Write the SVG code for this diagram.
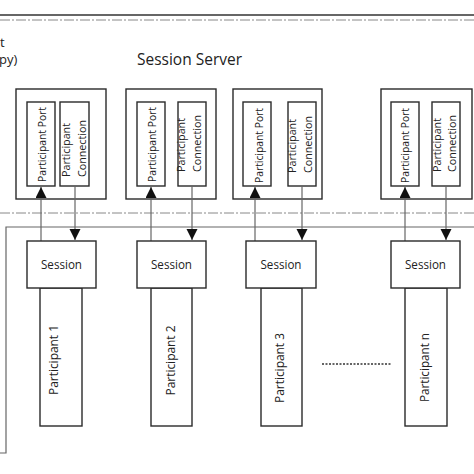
<svg xmlns="http://www.w3.org/2000/svg" width="474" height="474" viewBox="0 0 474 474">
<defs>
<style>
.box{fill:#fff;stroke:#2a2a2a;stroke-width:1.4}
.ln{fill:none;stroke:#666;stroke-width:1.2}
.dash{fill:none;stroke:#888;stroke-width:1;stroke-dasharray:10 2 2 2}
.t{font-family:"Open Sans","Noto Sans",sans-serif;fill:#222}
.s{font-size:11.5px}
.m{font-size:12.5px}
</style>
<marker id="ah" markerUnits="userSpaceOnUse" markerWidth="12" markerHeight="12" viewBox="0 0 12 12" refX="11" refY="5.5" orient="auto">
<path d="M0,0 L11,5.5 L0,11 Z" fill="#111"/>
</marker>
</defs>
<rect width="474" height="474" fill="#fff"/>
<g id="frame">
<line x1="0" y1="15" x2="474" y2="15" stroke="#333" stroke-width="1.5"/>
<line class="dash" x1="0" y1="20" x2="474" y2="20"/>
<line class="dash" x1="0" y1="213" x2="474" y2="213"/>
<text class="t" x="0" y="47" font-size="13">t</text>
<text class="t" x="-1" y="64" font-size="13">py)</text>
<text class="t" x="189.5" y="65" font-size="16.5" text-anchor="middle" textLength="105" lengthAdjust="spacingAndGlyphs">Session Server</text>
</g>
<g id="server1">
<rect class="box" x="16" y="89" width="90" height="110"/>
<rect class="box" x="27" y="102" width="28" height="84"/>
<rect class="box" x="60" y="102" width="29" height="84"/>
<text class="t s" transform="translate(45.5,144.5) rotate(-90)" text-anchor="middle" textLength="75" lengthAdjust="spacingAndGlyphs">Participant Port</text>
<text class="t s" transform="translate(70,177) rotate(-90)" textLength="54" lengthAdjust="spacingAndGlyphs">Participant</text>
<text class="t s" transform="translate(86,177) rotate(-90)" textLength="57" lengthAdjust="spacingAndGlyphs">Connection</text>
</g>
<g id="server2">
<rect class="box" x="126" y="89" width="90" height="110"/>
<rect class="box" x="137" y="102" width="28" height="84"/>
<rect class="box" x="178" y="102" width="28" height="84"/>
<text class="t s" transform="translate(156,144.5) rotate(-90)" text-anchor="middle" textLength="75" lengthAdjust="spacingAndGlyphs">Participant Port</text>
<text class="t s" transform="translate(185,172) rotate(-90)" textLength="54" lengthAdjust="spacingAndGlyphs">Participant</text>
<text class="t s" transform="translate(201,172) rotate(-90)" textLength="57" lengthAdjust="spacingAndGlyphs">Connection</text>
</g>
<g id="server3">
<rect class="box" x="233" y="89" width="89" height="110"/>
<rect class="box" x="243" y="102" width="28" height="84"/>
<rect class="box" x="288" y="102" width="28" height="84"/>
<text class="t s" transform="translate(263,145.5) rotate(-90)" text-anchor="middle" textLength="75" lengthAdjust="spacingAndGlyphs">Participant Port</text>
<text class="t s" transform="translate(296,173) rotate(-90)" textLength="54" lengthAdjust="spacingAndGlyphs">Participant</text>
<text class="t s" transform="translate(312,173) rotate(-90)" textLength="57" lengthAdjust="spacingAndGlyphs">Connection</text>
</g>
<g id="server4">
<rect class="box" x="381" y="89" width="91" height="110"/>
<rect class="box" x="391" y="102" width="28" height="84"/>
<rect class="box" x="432" y="102" width="28" height="84"/>
<text class="t s" transform="translate(409,145.5) rotate(-90)" text-anchor="middle" textLength="75" lengthAdjust="spacingAndGlyphs">Participant Port</text>
<text class="t s" transform="translate(441,172) rotate(-90)" textLength="54" lengthAdjust="spacingAndGlyphs">Participant</text>
<text class="t s" transform="translate(456,172) rotate(-90)" textLength="57" lengthAdjust="spacingAndGlyphs">Connection</text>
</g>
<g id="connectors">
<polyline class="ln" points="474,227 6,227 6,453 0,453"/>
<line class="ln" x1="41" y1="241" x2="41" y2="187" marker-end="url(#ah)"/>
<line class="ln" x1="75" y1="186" x2="75" y2="240" marker-end="url(#ah)"/>
<line class="ln" x1="151" y1="241" x2="151" y2="187" marker-end="url(#ah)"/>
<line class="ln" x1="192" y1="186" x2="192" y2="240" marker-end="url(#ah)"/>
<line class="ln" x1="255" y1="241" x2="255" y2="187" marker-end="url(#ah)"/>
<line class="ln" x1="302" y1="186" x2="302" y2="240" marker-end="url(#ah)"/>
<line class="ln" x1="405" y1="241" x2="405" y2="187" marker-end="url(#ah)"/>
<line class="ln" x1="446" y1="186" x2="446" y2="240" marker-end="url(#ah)"/>
<line x1="322" y1="364" x2="392" y2="364" stroke="#333" stroke-width="1.3" stroke-dasharray="2 1.5"/>
</g>
<g id="participant1">
<rect class="box" x="40" y="288" width="42" height="138"/>
<rect class="box" x="27" y="241" width="69" height="47"/>
<text class="t m" x="61.5" y="269" text-anchor="middle" textLength="41" lengthAdjust="spacingAndGlyphs">Session</text>
<text class="t m" transform="translate(58,360) rotate(-90)" text-anchor="middle" textLength="70" lengthAdjust="spacingAndGlyphs">Participant 1</text>
</g>
<g id="participant2">
<rect class="box" x="151" y="288" width="41" height="138"/>
<rect class="box" x="137" y="241" width="69" height="47"/>
<text class="t m" x="171.5" y="269" text-anchor="middle" textLength="41" lengthAdjust="spacingAndGlyphs">Session</text>
<text class="t m" transform="translate(174.5,360.5) rotate(-90)" text-anchor="middle" textLength="70" lengthAdjust="spacingAndGlyphs">Participant 2</text>
</g>
<g id="participant3">
<rect class="box" x="261" y="288" width="41" height="138"/>
<rect class="box" x="246" y="241" width="70" height="47"/>
<text class="t m" x="281" y="269" text-anchor="middle" textLength="41" lengthAdjust="spacingAndGlyphs">Session</text>
<text class="t m" transform="translate(284,368) rotate(-90)" text-anchor="middle" textLength="70" lengthAdjust="spacingAndGlyphs">Participant 3</text>
</g>
<g id="participantn">
<rect class="box" x="405" y="288" width="42" height="138"/>
<rect class="box" x="391" y="241" width="69" height="47"/>
<text class="t m" x="425.5" y="269" text-anchor="middle" textLength="41" lengthAdjust="spacingAndGlyphs">Session</text>
<text class="t m" transform="translate(429,367.5) rotate(-90)" text-anchor="middle" textLength="69" lengthAdjust="spacingAndGlyphs">Participant n</text>
</g>
</svg>
